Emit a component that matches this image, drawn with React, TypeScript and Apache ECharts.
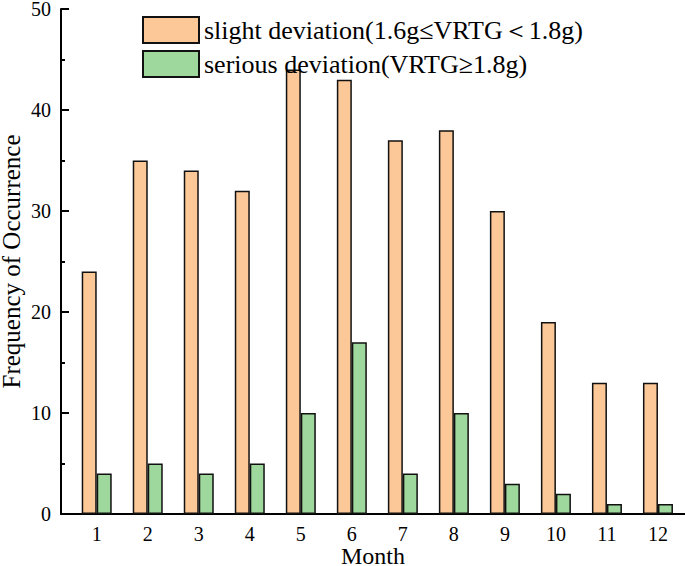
import React, { useRef, useEffect } from 'react'
import * as echarts from 'echarts'

const months = [1, 2, 3, 4, 5, 6, 7, 8, 9, 10, 11, 12]
const slight = [24, 35, 34, 32, 44, 43, 37, 38, 30, 19, 13, 13]
const serious = [4, 5, 4, 5, 10, 17, 4, 10, 3, 2, 1, 1]
const seriesNames = ['slight deviation(1.6g≤VRTG＜1.8g)', 'serious deviation(VRTG≥1.8g)']

const FONT = '"Liberation Serif", "Times New Roman", serif'

const App: React.FC = () => {
  const chartRef = useRef<HTMLDivElement>(null)

  useEffect(() => {
    if (!chartRef.current) return
    const chart = echarts.init(chartRef.current, undefined, { renderer: 'svg' })

    const barStyle = (color: string) => ({
      color,
      borderColor: '#111',
      borderWidth: 1.5
    })

    const option = {
      animation: false,
      backgroundColor: '#fff',
      textStyle: { fontFamily: FONT },
      grid: { left: 61, right: 0, top: 9, bottom: 52, containLabel: false, outerBoundsMode: 'none' },
      legend: {
        orient: 'vertical',
        left: 137,
        top: 11,
        itemWidth: 56,
        itemHeight: 26,
        itemGap: 6,
        icon: 'rect',
        textStyle: { fontFamily: FONT, fontSize: 26, color: '#000' },
        data: seriesNames
      },
      xAxis: {
        type: 'value',
        min: 0.3,
        max: 12.53,
        name: 'Month',
        nameLocation: 'middle',
        nameGap: 30,
        nameMoveOverlap: false,
        nameTextStyle: { fontFamily: FONT, fontSize: 24, color: '#000' },
        axisLine: { lineStyle: { color: '#000', width: 2 } },
        axisTick: { show: false },
        splitLine: { show: false },
        axisLabel: {
          customValues: months,
          fontFamily: FONT,
          fontSize: 20,
          color: '#000',
          margin: 10
        }
      },
      yAxis: {
        type: 'value',
        min: 0,
        max: 50,
        interval: 10,
        name: 'Frequency of Occurrence',
        nameLocation: 'middle',
        nameGap: 37,
        nameMoveOverlap: false,
        nameTextStyle: { fontFamily: FONT, fontSize: 25, color: '#000' },
        axisLine: { show: true, lineStyle: { color: '#000', width: 2 } },
        axisTick: { show: true, inside: true, length: 8, lineStyle: { color: '#000', width: 2 } },
        minorTick: { show: true, splitNumber: 2, length: 4, lineStyle: { color: '#000', width: 2 } },
        splitLine: { show: false },
        axisLabel: { fontFamily: FONT, fontSize: 20, color: '#000', margin: 10 }
      },
      series: [
        {
          name: seriesNames[0],
          type: 'bar',
          barWidth: 15,
          barGap: '0%',
          data: months.map((m, i) => [m, slight[i]]),
          itemStyle: barStyle('#FDC897')
        },
        {
          name: seriesNames[1],
          type: 'bar',
          barWidth: 15,
          barGap: '0%',
          data: months.map((m, i) => [m, serious[i]]),
          itemStyle: barStyle('#9FD89D')
        }
      ]
    }

    chart.setOption(option)
    return () => {
      chart.dispose()
    }
  }, [])

  return (
    <div
      ref={chartRef}
      style={{ position: 'absolute', left: 0, top: 0, width: 685, height: 566 }}
    />
  )
}

export default App
